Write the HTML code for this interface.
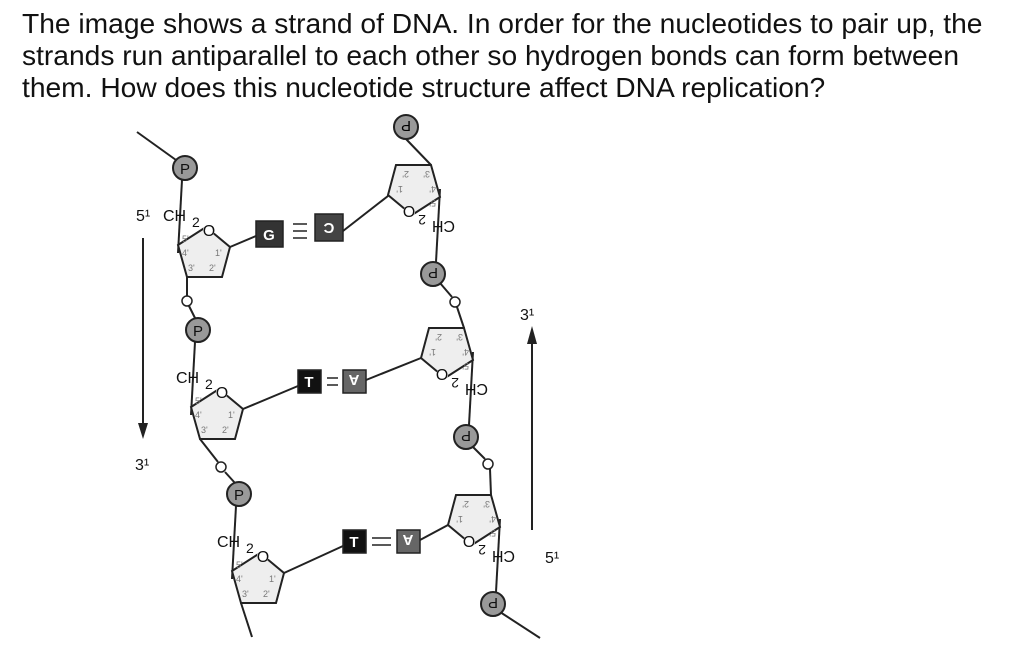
<!DOCTYPE html>
<html><head><meta charset="utf-8"><style>
body{margin:0;background:#fff;width:1024px;height:665px;overflow:hidden}
.t{position:absolute;left:22px;top:7px;font-family:"Liberation Sans",sans-serif;font-size:28.2px;line-height:32px;color:#111;white-space:nowrap}
svg{position:absolute;left:0;top:0}
</style></head><body>
<div class="t">The image shows a strand of DNA. In order for the nucleotides to pair up, the<br>strands run antiparallel to each other so hydrogen bonds can form between<br>them. How does this nucleotide structure affect DNA replication?</div>
<svg width="1024" height="665" font-family="Liberation Sans,sans-serif">
<defs>
<g id="u">
<line x1="-3" y1="12" x2="-7" y2="85" stroke="#222" stroke-width="2"/>
<polygon points="-7,77 21,59 45,79 37,109 2,109" fill="#eee" stroke="#222" stroke-width="2"/>
<circle cx="0" cy="0" r="12" fill="#999" stroke="#222" stroke-width="2"/>
<text x="0" y="6" font-size="15" text-anchor="middle" fill="#111">P</text>
<text x="-22" y="53" font-size="16" fill="#111">CH</text>
<text x="7" y="59" font-size="14" fill="#111">2</text>
<ellipse cx="24" cy="62" rx="6" ry="6" fill="#fff"/>
<text x="24" y="68" font-size="16" text-anchor="middle" fill="#111">O</text>
<g font-size="9" fill="#777"><text x="-3" y="74">5'</text><text x="-3" y="88">4'</text><text x="30" y="88">1'</text><text x="3" y="103">3'</text><text x="24" y="103">2'</text></g>
</g>
</defs>
<g stroke="#222" stroke-width="2" fill="none">
<line x1="137" y1="132" x2="176" y2="160"/>
<line x1="187" y1="277" x2="187" y2="296"/><line x1="189" y1="306" x2="195" y2="318"/>
<line x1="200" y1="439" x2="218" y2="462"/><line x1="225" y1="472" x2="235" y2="483"/>
<line x1="241" y1="603" x2="252" y2="637"/>
<line x1="406" y1="139" x2="431" y2="165"/>
<line x1="440" y1="283" x2="452" y2="297"/><line x1="457" y1="307" x2="464" y2="328"/>
<line x1="472" y1="446" x2="485" y2="459"/><line x1="490" y1="469" x2="491" y2="495"/>
<line x1="500" y1="612" x2="540" y2="638"/>
<line x1="230" y1="247" x2="256" y2="236"/><line x1="343" y1="231" x2="388" y2="196"/>
<line x1="243" y1="409" x2="298" y2="386"/><line x1="366" y1="380" x2="421" y2="358"/>
<line x1="284" y1="573" x2="343" y2="546"/><line x1="420" y1="540" x2="448" y2="525"/>
<line x1="143" y1="238" x2="143" y2="425"/><line x1="532" y1="342" x2="532" y2="530"/>
</g>
<circle cx="187" cy="301" r="5" fill="#fff" stroke="#222" stroke-width="1.5"/>
<circle cx="221" cy="467" r="5" fill="#fff" stroke="#222" stroke-width="1.5"/>
<circle cx="455" cy="302" r="5" fill="#fff" stroke="#222" stroke-width="1.5"/>
<circle cx="488" cy="464" r="5" fill="#fff" stroke="#222" stroke-width="1.5"/>
<polygon points="138,423 148,423 143,439" fill="#222"/>
<polygon points="527,344 537,344 532,326" fill="#222"/>
<use href="#u" transform="translate(185,168)"/>
<use href="#u" transform="translate(198,330)"/>
<use href="#u" transform="translate(239,494)"/>
<use href="#u" transform="translate(433,274) rotate(180)"/>
<use href="#u" transform="translate(466,437) rotate(180)"/>
<use href="#u" transform="translate(493,604) rotate(180)"/>
<circle cx="406" cy="127" r="12" fill="#999" stroke="#222" stroke-width="2"/>
<text x="406" y="133" font-size="15" text-anchor="middle" transform="rotate(180 406 127)">P</text>
<text x="136" y="221" font-size="16" fill="#111">5¹</text>
<text x="135" y="470" font-size="16" fill="#111">3¹</text>
<text x="520" y="320" font-size="16" fill="#111">3¹</text>
<text x="545" y="563" font-size="16" fill="#111">5¹</text>
<g stroke="#222" stroke-width="1.5">
<rect x="256" y="221" width="27" height="26" fill="#333"/>
<rect x="315" y="214" width="28" height="27" fill="#444"/>
<line x1="293" y1="224" x2="307" y2="224"/><line x1="293" y1="231" x2="307" y2="231"/><line x1="293" y1="238" x2="307" y2="238"/>
<rect x="298" y="370" width="23" height="23" fill="#111"/>
<rect x="343" y="370" width="23" height="23" fill="#666"/>
<line x1="327" y1="378" x2="338" y2="378"/><line x1="327" y1="385" x2="338" y2="385"/>
<rect x="343" y="530" width="23" height="23" fill="#111"/>
<rect x="397" y="530" width="23" height="23" fill="#666"/>
<line x1="372" y1="538" x2="391" y2="538"/><line x1="372" y1="545" x2="391" y2="545"/>
</g>
<g font-size="15" font-weight="bold" fill="#fff" text-anchor="middle">
<text x="269" y="240">G</text>
<text x="329" y="233" transform="rotate(180 329 228)">C</text>
<text x="309" y="387">T</text>
<text x="354" y="387" transform="rotate(180 354 381)">A</text>
<text x="354" y="547">T</text>
<text x="408" y="547" transform="rotate(180 408 541)">A</text>
</g>
</svg>
</body></html>
